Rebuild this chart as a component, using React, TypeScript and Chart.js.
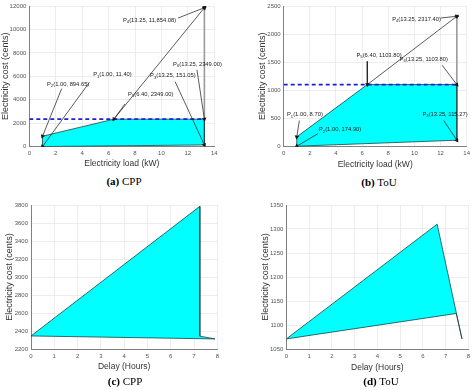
import React, { useEffect, useRef } from 'react';
import { Chart, registerables } from 'chart.js';

Chart.register(...registerables);

const FONT = '"Liberation Sans", Arial, Helvetica, sans-serif';
const CAPTION_FONT = '"Liberation Serif", "Times New Roman", serif';

// ---------- (a) CPP: electricity cost vs load ----------
const cppNames = ['1', '2', '3', '4', '5', '6'];
const cppPtX = [1.0, 1.0, 13.25, 13.25, 6.4, 13.25];
const cppPtY = [11.4, 894.65, 151.05, 11854.08, 2349.0, 2349.0];
const cppPtText = ['(1.00, 11.40)', '(1.00, 894.65)', '(13.25, 151.05)', '(13.25, 11,854.08)', '(6.40, 2349.00)', '(13.25, 2349.00)'];
const cppPolygonOrder = [1, 4, 5, 2, 0, 1];
const cppArrowTarget = [0, 1, 2, 3, 4, 5];
const cppLabelAt = [[4.83, 6142], [1.34, 5308], [9.14, 6058], [7.09, 10808], [7.47, 4475], [10.88, 7058]];
const cppArrowFrom = [[4.54, 5475], [2.45, 4950], [11.03, 5558], [11.26, 10975], [7.24, 3642], [12.69, 6558]];

// ---------- (b) ToU: electricity cost vs load ----------
const touNames = ['1', '2', '3', '4', '5', '6'];
const touPtX = [1.0, 1.0, 13.25, 13.25, 6.4, 13.25];
const touPtY = [8.7, 174.9, 115.27, 2317.4, 1103.8, 1103.8];
const touPtText = ['(1.00, 8.70)', '(1.00, 174.90)', '(13.25, 115.27)', '(13.25, 2317.40)', '(6.40, 1103.80)', '(13.25, 1103.80)'];
const touPolygonOrder = [1, 4, 5, 2, 0, 1];
const touArrowTarget = [1, 0, 2, 3, 4, 5];
const touLabelAt = [[0.25, 568], [2.7, 302], [10.62, 580], [8.3, 2269], [5.57, 1622], [8.87, 1552]];
const touArrowFrom = [[1.2, 464], [2.63, 233], [12.25, 464], [12.0, 2286], [6.38, 1517], [12.12, 1448]];

// ---------- (c) CPP: cost vs delay ----------
const cppDelayX = [0, 7.25, 7.25, 7.9, 0];
const cppDelayY = [2345, 3785, 2343, 2312, 2345];

// ---------- (d) ToU: cost vs delay ----------
const touDelayX = [0, 6.63, 7.72, 7.47, 0];
const touDelayY = [1071, 1310, 1071, 1124, 1071];

type XY = { x: number; y: number };

function axisCfg(min: number, max: number, step: number, title: string, titlePad: number, isX: boolean, size: number) {
  return {
    type: 'linear',
    min,
    max,
    ticks: {
      stepSize: step,
      color: '#555',
      font: { family: FONT, size: 6, lineHeight: 1 },
      padding: isX ? 4 : 3,
      autoSkip: false,
      maxRotation: 0,
      callback: (v: any) => String(v),
    },
    grid: { color: '#e8e8e8', lineWidth: 0.8, drawTicks: false },
    border: { display: true, color: '#808080', width: 1 },
    title: {
      display: true,
      text: title,
      color: '#333',
      font: { family: FONT, size: isX ? 8.5 : 9, lineHeight: 1.2 },
      padding: isX ? { top: 0, bottom: titlePad } : { top: titlePad, bottom: 0 },
    },
    afterFit: (s: any) => {
      if (isX) s.height = size;
      else s.width = size;
    },
  };
}

function polygonDataset(pts: XY[]) {
  return {
    data: pts,
    borderColor: '#1d4444',
    borderWidth: 0.8,
    backgroundColor: '#00ffff',
    fill: 'shape',
    pointRadius: 0,
    order: 10,
  };
}

function segDataset(pts: XY[], color: string, width: number, dash: number[], order: number) {
  return {
    data: pts,
    borderColor: color,
    borderWidth: width,
    borderDash: dash,
    fill: false,
    pointRadius: 0,
    order,
  };
}

function arrowRotation(ctx: any) {
  if (ctx.type !== 'data' || ctx.dataIndex === 0) return 0;
  const d = ctx.dataset.data;
  const a = d[ctx.dataIndex - 1];
  const b = d[ctx.dataIndex];
  const xs = ctx.chart.scales.x;
  const ys = ctx.chart.scales.y;
  const dx = xs.getPixelForValue(b.x) - xs.getPixelForValue(a.x);
  const dy = ys.getPixelForValue(b.y) - ys.getPixelForValue(a.y);
  return (Math.atan2(dx, -dy) * 180) / Math.PI;
}

function arrowDataset(from: XY, to: XY) {
  return {
    data: [from, to],
    borderColor: '#151515',
    borderWidth: 0.7,
    fill: false,
    pointRadius: [0, 2.6],
    pointStyle: 'triangle',
    pointBackgroundColor: '#151515',
    pointBorderColor: '#151515',
    pointBorderWidth: 0,
    pointRotation: arrowRotation,
    order: 0,
  };
}

type LabelItem = { sub: string; text: string; x: number; y: number };

function labelPlugin(items: LabelItem[]) {
  return {
    id: 'ptLabels',
    afterDraw(chart: any) {
      const ctx = chart.ctx;
      const xs = chart.scales.x;
      const ys = chart.scales.y;
      const main = `5.8px ${FONT}`;
      const small = `4.2px ${FONT}`;
      ctx.save();
      ctx.fillStyle = '#222';
      ctx.textBaseline = 'middle';
      ctx.textAlign = 'left';
      for (const it of items) {
        let px = xs.getPixelForValue(it.x);
        const py = ys.getPixelForValue(it.y);
        ctx.font = main;
        ctx.fillText('P', px, py);
        px += ctx.measureText('P').width;
        ctx.font = small;
        ctx.fillText(it.sub, px, py + 1.8);
        px += ctx.measureText(it.sub).width;
        ctx.font = main;
        ctx.fillText(it.text, px, py);
      }
      ctx.restore();
    },
  };
}

type Layout = { padR: number; padT: number; yW: number; xH: number; yTitlePad: number; xTitlePad: number };

function baseConfig(datasets: any[], plugins: any[], x: any, y: any, lay: Layout) {
  return {
    type: 'line',
    data: { datasets },
    options: {
      animation: false,
      responsive: false,
      events: [],
      layout: { padding: { left: 0, right: lay.padR, top: lay.padT, bottom: 0 } },
      plugins: { legend: { display: false }, tooltip: { enabled: false } },
      scales: { x, y },
    },
    plugins,
  };
}

function loadChartConfig(
  names: string[], ptX: number[], ptY: number[], ptText: string[], polyOrder: number[], arrowTarget: number[],
  labelAt: number[][], arrowFrom: number[][], xMax: number, xStep: number, yMax: number, yStep: number, lay: Layout
) {
  const P = (i: number): XY => ({ x: ptX[i], y: ptY[i] });
  const datasets: any[] = [];
  // polygon region
  datasets.push(polygonDataset(polyOrder.map(P)));
  // dashed threshold line from x=0 to P6
  datasets.push(segDataset([{ x: 0, y: ptY[4] }, { x: ptX[5], y: ptY[5] }], '#1f1fd6', 1.6, [4, 3], 5));
  // grey vertical line P6 -> P4
  datasets.push(segDataset([P(5), P(3)], '#9a9a9a', 1.6, [], 6));
  // long arrow to P4
  const longFrom = ptY[1] > ptY[0] && ptX[1] === ptX[4] ? P(1) : P(4);
  datasets.push(arrowDataset(longFrom, P(3)));
  // label arrows
  for (let i = 0; i < names.length; i++) {
    datasets.push(arrowDataset({ x: arrowFrom[i][0], y: arrowFrom[i][1] }, P(arrowTarget[i])));
  }
  const items: LabelItem[] = names.map((n, i) => ({ sub: n, text: ptText[i], x: labelAt[i][0], y: labelAt[i][1] }));
  return baseConfig(
    datasets,
    [labelPlugin(items)],
    axisCfg(0, xMax, xStep, 'Electricity load (kW)', lay.xTitlePad, true, lay.xH),
    axisCfg(0, yMax, yStep, 'Electricity cost (cents)', lay.yTitlePad, false, lay.yW),
    lay
  );
}

function delayChartConfig(xs: number[], ys: number[], yMin: number, yMax: number, yStep: number, lay: Layout) {
  const pts = xs.map((x, i) => ({ x, y: ys[i] }));
  return baseConfig(
    [polygonDataset(pts)],
    [],
    axisCfg(0, 8, 1, 'Delay (Hours)', lay.xTitlePad, true, lay.xH),
    axisCfg(yMin, yMax, yStep, 'Electricity cost (cents)', lay.yTitlePad, false, lay.yW),
    lay
  );
}

function Panel(props: { left: number; top: number; width: number; height: number; build: () => any }) {
  const ref = useRef<HTMLCanvasElement | null>(null);
  useEffect(() => {
    if (!ref.current) return;
    const chart = new Chart(ref.current, props.build());
    return () => chart.destroy();
  }, []);
  return (
    <canvas
      ref={ref}
      width={props.width}
      height={props.height}
      style={{ position: 'absolute', left: props.left, top: props.top, width: props.width, height: props.height, display: 'block' }}
    />
  );
}

function Caption(props: { cx: number; cy: number; tag: string; text: string }) {
  return (
    <div
      style={{
        position: 'absolute',
        left: props.cx - 50,
        width: 100,
        top: props.cy - 7,
        height: 14,
        lineHeight: '14px',
        textAlign: 'center',
        fontFamily: CAPTION_FONT,
        fontSize: 11,
        color: '#000',
        whiteSpace: 'nowrap',
      }}
    >
      <b>{props.tag}</b> {props.text}
    </div>
  );
}

export default function App() {
  return (
    <div style={{ position: 'fixed', left: 0, top: 0, width: 474, height: 390, background: '#fff', overflow: 'hidden' }}>
      <Panel
        left={0}
        top={0}
        width={237}
        height={170}
        build={() =>
          loadChartConfig(cppNames, cppPtX, cppPtY, cppPtText, cppPolygonOrder, cppArrowTarget, cppLabelAt, cppArrowFrom,
            14, 2, 12000, 2000, { padR: 22.7, padT: 2.7, yW: 29.3, xH: 23.3, yTitlePad: 0.6, xTitlePad: 1 })
        }
      />
      <Panel
        left={237}
        top={0}
        width={237}
        height={170}
        build={() =>
          loadChartConfig(touNames, touPtX, touPtY, touPtText, touPolygonOrder, touArrowTarget, touLabelAt, touArrowFrom,
            14, 2, 2500, 500, { padR: 3.7, padT: 2.7, yW: 46.7, xH: 23.3, yTitlePad: 20.6, xTitlePad: 0.5 })
        }
      />
      <Panel
        left={0}
        top={195}
        width={237}
        height={180}
        build={() => delayChartConfig(cppDelayX, cppDelayY, 2200, 3800, 200, { padR: 19.7, padT: 10, yW: 31, xH: 26, yTitlePad: 4.6, xTitlePad: 3.2 })}
      />
      <Panel
        left={237}
        top={195}
        width={237}
        height={180}
        build={() => delayChartConfig(touDelayX, touDelayY, 1050, 1350, 50, { padR: 2, padT: 10, yW: 49.3, xH: 26, yTitlePad: 23.6, xTitlePad: 1.8 })}
      />
      <Caption cx={124} cy={181} tag="(a)" text="CPP" />
      <Caption cx={379} cy={182} tag="(b)" text="ToU" />
      <Caption cx={125} cy={381} tag="(c)" text="CPP" />
      <Caption cx={381} cy={381} tag="(d)" text="ToU" />
    </div>
  );
}
